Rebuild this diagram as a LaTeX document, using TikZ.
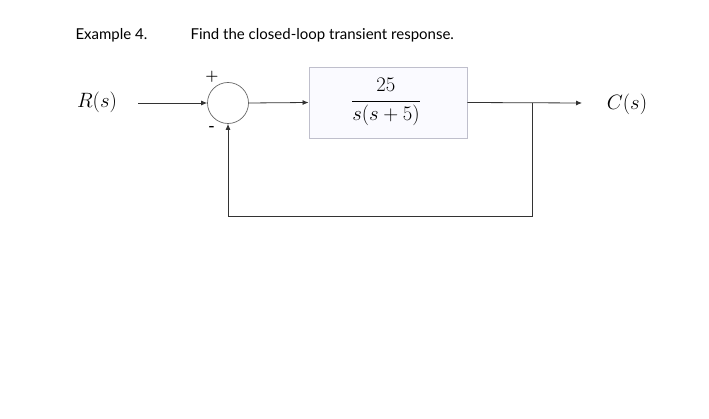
\documentclass[tikz,border=0pt]{standalone}
\usepackage{fontspec}
\newfontfamily\titlefont{Lato}
\usetikzlibrary{arrows.meta}
\begin{document}
\begin{tikzpicture}[x=1pt,y=-1pt,
  conn/.style={draw=black!80,line width=0.8pt,-{Latex[length=6pt,width=5pt]}},
  lbl/.style={font=\fontsize{22}{26}\selectfont}]
\useasboundingbox (0,0) rectangle (709,419);
\node[anchor=west,font=\titlefont\fontsize{15}{17}\selectfont] (ex) at (72,35) {Example 4.};
\node[anchor=west,font=\titlefont\fontsize{15}{17}\selectfont] (fd) at (187,35) {Find the closed-loop transient response.};
\node[lbl] (r) at (97,102) {$R(s)$};
\node[draw=black!60,fill=white,circle,minimum size=41pt,inner sep=0pt,line width=0.7pt] (sum) at (228,103) {};
\node[draw=blue!20!black!25,fill=blue!2,minimum width=158pt,minimum height=71pt,line width=0.9pt] (g) at (388,102.5) {};
\node[font=\fontsize{21}{24}\selectfont] (frac) at (386,102) {$\displaystyle\frac{25}{s(s+5)}$};
\node[lbl] (c) at (627,104) {$C(s)$};
\node[font=\bfseries\fontsize{15}{15}\selectfont] (plus) at (212,77) {+};
\node[font=\bfseries\fontsize{15}{15}\selectfont] (minus) at (212,128) {-};
\coordinate (rs) at (138,103);
\coordinate (ce) at (582,103);
\coordinate (br) at (532,103);
\coordinate (b1) at (532,216);
\coordinate (b2) at (228,216);
\draw[conn] (rs) -- (sum.west);
\draw[conn] (sum.east) -- (g.west);
\draw[conn] (g.east) -- (ce);
\draw[conn] (br) -- (b1) -- (b2) -- (sum.south);
\end{tikzpicture}
\end{document}
